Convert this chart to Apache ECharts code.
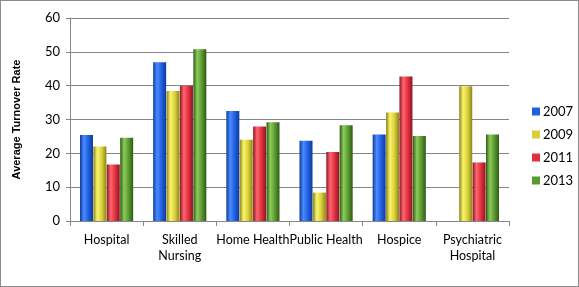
<!DOCTYPE html>
<html>
<head>
<meta charset="utf-8">
<script src="https://cdn.jsdelivr.net/npm/echarts@6/dist/echarts.min.js"></script>
<style>
  html, body { margin: 0; padding: 0; background: #fff; }
  #chart { width: 579px; height: 287px; box-sizing: border-box; border: 1px solid #8c8c8c; }
</style>
</head>
<body>
<div id="chart"></div>
<script>
// categories and values
var categories = ['Hospital', 'Skilled\nNursing', 'Home Health', 'Public Health', 'Hospice', 'Psychiatric\nHospital'];
var years = ['2007', '2009', '2011', '2013'];
var v2007 = [25.4, 46.9, 32.5, 23.7, 25.6, null];
var v2009 = [22.0, 38.4, 24.0, 8.4, 32.1, 39.8];
var v2011 = [16.7, 40.0, 27.9, 20.4, 42.7, 17.3];
var v2013 = [24.6, 50.8, 29.2, 28.3, 25.1, 25.6];
var yTicks = [0, 10, 20, 30, 40, 50, 60];

// base colours for each year: dark edge, light centre, mid
var palette = [
  ['#0f3a9a', '#4a8cff', '#1f5fe0'],
  ['#8a8418', '#fbf46a', '#d8d03a'],
  ['#8c1620', '#ff6670', '#e0303e'],
  ['#2f5a14', '#8ccc5a', '#5a9a30']
];

function cylinder(c) {
  return new echarts.graphic.LinearGradient(0, 0, 1, 0, [
    { offset: 0, color: c[0] },
    { offset: 0.3, color: c[1] },
    { offset: 0.65, color: c[2] },
    { offset: 1, color: c[0] }
  ]);
}

var chart = echarts.init(document.getElementById('chart'));
var values = [v2007, v2009, v2011, v2013];

var series = years.map(function (y, i) {
  return {
    name: y,
    type: 'bar',
    barWidth: 13,
    barGap: '3%',
    data: values[i],
    itemStyle: {
      color: cylinder(palette[i])
    }
  };
});

var option = {
  backgroundColor: '#fff',
  animation: false,
  textStyle: { fontFamily: 'Lato, "Open Sans", sans-serif' },
  grid: { left: 69, right: 69, top: 17, bottom: 65 },
  legend: {
    orient: 'vertical',
    left: 526,
    top: 99,
    itemWidth: 8,
    itemHeight: 8,
    itemGap: 10,
    data: years.map(function (y, i) {
      return { name: y, itemStyle: { color: palette[i][2] } };
    }),
    textStyle: { fontSize: 13, color: '#000', padding: [0, 0, 0, -2] },
    icon: 'rect'
  },
  xAxis: {
    type: 'category',
    data: categories,
    axisLine: { lineStyle: { color: '#868686' } },
    axisTick: { show: true, length: 5, lineStyle: { color: '#868686' } },
    axisLabel: { color: '#000', fontSize: 12.5, margin: 11, lineHeight: 16, interval: 0 }
  },
  yAxis: {
    type: 'value',
    min: yTicks[0],
    max: yTicks[yTicks.length - 1],
    interval: 10,
    name: 'Average Turnover Rate',
    nameLocation: 'middle',
    nameGap: 48,
    nameTextStyle: { fontSize: 11, fontWeight: 'bold', color: '#000', fontFamily: '"Liberation Sans", Arial, sans-serif' },
    axisLine: { show: true, lineStyle: { color: '#868686' } },
    axisTick: { show: true, length: 4, lineStyle: { color: '#868686' } },
    splitLine: { lineStyle: { color: '#868686' } },
    axisLabel: { color: '#000', fontSize: 13, margin: 10 }
  },
  series: series
};

chart.setOption(option);
</script>
</body>
</html>
